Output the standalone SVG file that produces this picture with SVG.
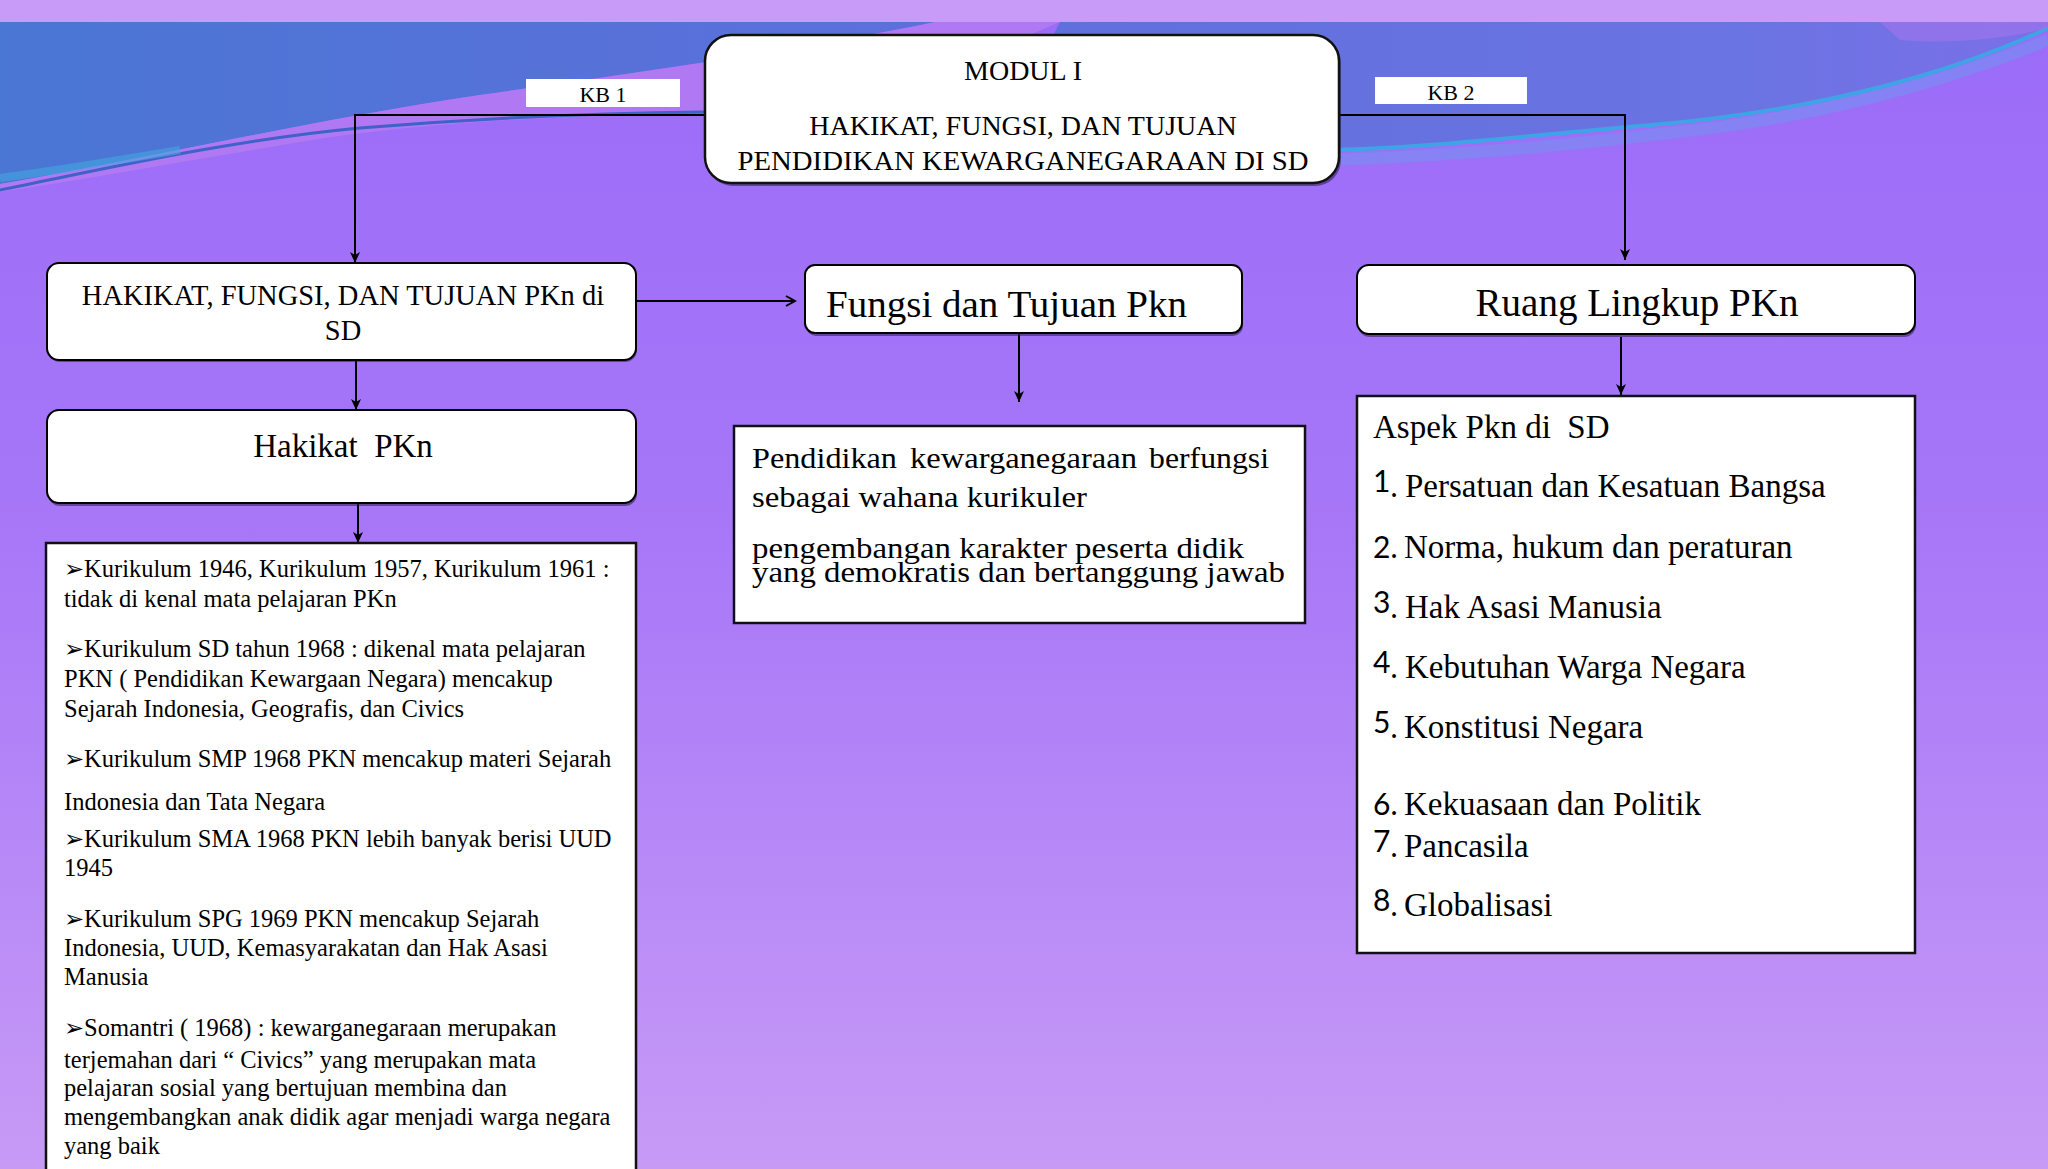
<svg xmlns="http://www.w3.org/2000/svg" width="2048" height="1169" viewBox="0 0 2048 1169">
  <defs>
    <linearGradient id="bgGrad" x1="0" y1="0" x2="0" y2="1">
      <stop offset="0" stop-color="#9a6bf8"/>
      <stop offset="0.45" stop-color="#a777f8"/>
      <stop offset="1" stop-color="#c79af6"/>
    </linearGradient>
    <linearGradient id="blueA" x1="0" y1="0" x2="1" y2="0">
      <stop offset="0" stop-color="#4a76d4"/>
      <stop offset="1" stop-color="#5e6fdc"/>
    </linearGradient>
    <linearGradient id="blueB" x1="0" y1="0" x2="1" y2="0">
      <stop offset="0" stop-color="#5f6fdc"/>
      <stop offset="0.7" stop-color="#6a74e2"/>
      <stop offset="1" stop-color="#7b6fe8"/>
    </linearGradient>
    <marker id="arrowFill" markerUnits="userSpaceOnUse" markerWidth="12" markerHeight="10" refX="11" refY="5" orient="auto">
      <path d="M0,0 L11,5 L0,10 L3,5 Z" fill="#000"/>
    </marker>
    <marker id="arrowOpen" markerUnits="userSpaceOnUse" markerWidth="12" markerHeight="12" refX="10" refY="6" orient="auto">
      <path d="M1,1 L10,6 L1,11" fill="none" stroke="#000" stroke-width="2"/>
    </marker>
    <style>
      .serif { font-family: "Liberation Serif", "Times New Roman", serif; fill: #000; }
      .sym { font-family: "DejaVu Sans", "Liberation Serif", sans-serif; fill: #000; }
      .num { font-family: Lato, "Open Sans", "Liberation Sans", sans-serif; fill: #000; }
      .rbox { fill: #fff; stroke: #000; stroke-width: 2; }
      .sbox { fill: #fff; stroke: #111; stroke-width: 2.5; }
      .shadow { fill: #2a1d4a; opacity: 0.55; }
      .conn { fill: none; stroke: #000; stroke-width: 2; }
      .mid { text-anchor: middle; }
    </style>
  </defs>

  <!-- background -->
  <rect x="0" y="0" width="2048" height="1169" fill="url(#bgGrad)"/>
  <path d="M0,22 H935 C800,50 640,72 480,95 C300,122 150,158 0,184 Z" fill="url(#blueA)"/>
  <path d="M0,184 C150,158 300,122 480,95 C640,72 800,50 935,22 H1060 C950,70 820,105 700,113 C560,116 420,122 300,142 C180,162 80,180 0,192 Z" fill="#b47af2" opacity="0.85"/>
  <path d="M0,190 C100,170 230,140 360,128 C480,118 600,113 705,112" fill="none" stroke="#3f62c8" stroke-width="3"/>
  <path d="M0,178 C60,170 120,160 180,150" fill="none" stroke="#41a6e0" stroke-width="8" opacity="0.6"/>
  <path d="M1060,22 H2048 V30 C1960,70 1820,112 1640,126 C1520,136 1420,148 1330,150 L1000,140 Z" fill="url(#blueB)"/>
  <path d="M1330,150 C1430,148 1520,136 1640,126 C1820,112 1960,70 2048,28" fill="none" stroke="#3fa4e6" stroke-width="4"/>
  <path d="M1330,160 C1450,156 1560,146 1660,134 C1820,118 1950,80 2048,40" fill="none" stroke="#5aa8ee" stroke-width="12" opacity="0.35"/>
  <path d="M1880,22 H2048 V28 C2000,40 1950,44 1900,40 Z" fill="#a274ee" opacity="0.6"/>
  <rect x="0" y="0" width="2048" height="22" fill="#c99bf8"/>

  <!-- connectors -->
  <g id="connectors">
    <path class="conn" d="M705,115 H355 V263" marker-end="url(#arrowFill)" stroke-width="2"/>
    <path class="conn" d="M1339,115 H1625 V260" marker-end="url(#arrowFill)" stroke-width="1.6"/>
    <path class="conn" d="M636,301 H795" marker-end="url(#arrowOpen)" stroke-width="1.6"/>
    <path class="conn" d="M356,360 V410" marker-end="url(#arrowFill)"/>
    <path class="conn" d="M358,503 V543" marker-end="url(#arrowFill)"/>
    <path class="conn" d="M1019,333 V402" marker-end="url(#arrowFill)"/>
    <path class="conn" d="M1621,337 V395" marker-end="url(#arrowFill)"/>
  </g>

  <!-- KB labels -->
  <g id="kb1">
    <rect x="526" y="79" width="154" height="28" fill="#fff"/>
    <text class="serif mid" x="603" y="102" font-size="22">KB 1</text>
  </g>
  <g id="kb2">
    <rect x="1375" y="77" width="152" height="27" fill="#fff"/>
    <text class="serif mid" x="1451" y="100" font-size="22">KB 2</text>
  </g>

  <!-- MODUL I -->
  <g id="modul">
    <rect class="shadow" x="707" y="37" width="634" height="149" rx="26"/>
    <rect class="sbox" x="705" y="35" width="634" height="148" rx="26"/>
    <text class="serif mid" x="1023" y="80" font-size="28">MODUL I</text>
    <text class="serif mid" x="1023" y="135" font-size="28">HAKIKAT, FUNGSI, DAN TUJUAN</text>
    <text class="serif mid" x="1023" y="170" font-size="28" textLength="571" lengthAdjust="spacingAndGlyphs">PENDIDIKAN KEWARGANEGARAAN DI SD</text>
  </g>

  <!-- HAKIKAT, FUNGSI, DAN TUJUAN PKn di SD -->
  <g id="box-hakikat-fungsi">
    <rect class="shadow" x="48" y="265" width="589" height="97" rx="12"/>
    <rect class="rbox" x="47" y="263" width="589" height="97" rx="12"/>
    <text class="serif mid" x="343" y="305" font-size="28.5">HAKIKAT, FUNGSI, DAN TUJUAN PKn di</text>
    <text class="serif mid" x="343" y="340" font-size="28.5">SD</text>
  </g>

  <!-- Fungsi dan Tujuan Pkn -->
  <g id="box-fungsi">
    <rect class="shadow" x="806" y="267" width="437" height="69" rx="10"/>
    <rect class="rbox" x="805" y="265" width="437" height="68" rx="10"/>
    <text class="serif" x="826" y="317" font-size="38" textLength="361" lengthAdjust="spacingAndGlyphs">Fungsi dan Tujuan Pkn</text>
  </g>

  <!-- Ruang Lingkup PKn -->
  <g id="box-ruang">
    <rect class="shadow" x="1358" y="267" width="558" height="70" rx="12"/>
    <rect class="rbox" x="1357" y="265" width="558" height="69" rx="12"/>
    <text class="serif mid" x="1637" y="316" font-size="39">Ruang Lingkup PKn</text>
  </g>

  <!-- Hakikat PKn -->
  <g id="box-hakikat">
    <rect class="shadow" x="48" y="412" width="589" height="94" rx="12"/>
    <rect class="rbox" x="47" y="410" width="589" height="93" rx="12"/>
    <text class="serif mid" x="343" y="457" font-size="33" xml:space="preserve">Hakikat  PKn</text>
  </g>

  <!-- Fungsi description -->
  <g id="box-fungsi-desc">
    <rect x="734" y="426" width="571" height="197" fill="#fff" stroke="#111" stroke-width="2.5"/>
    <text class="serif" x="752" y="468" font-size="30" textLength="145" lengthAdjust="spacingAndGlyphs">Pendidikan</text>
    <text class="serif" x="910" y="468" font-size="30" textLength="227" lengthAdjust="spacingAndGlyphs">kewarganegaraan</text>
    <text class="serif" x="1149" y="468" font-size="30" textLength="120" lengthAdjust="spacingAndGlyphs">berfungsi</text>
    <text class="serif" x="752" y="507" font-size="30" textLength="335" lengthAdjust="spacingAndGlyphs">sebagai wahana kurikuler</text>
    <text class="serif" x="752" y="558" font-size="30" textLength="492" lengthAdjust="spacingAndGlyphs">pengembangan karakter peserta didik</text>
    <text class="serif" x="752" y="582" font-size="30" textLength="533" lengthAdjust="spacingAndGlyphs">yang demokratis dan bertanggung jawab</text>
  </g>

  <!-- Aspek list -->
  <g id="box-aspek">
    <rect x="1357" y="396" width="558" height="557" fill="#fff" stroke="#111" stroke-width="2.5"/>
    <text class="serif" x="1373" y="438" font-size="33" xml:space="preserve">Aspek Pkn di  SD</text>
    <text class="num" x="1373" y="492" font-size="30">1<tspan dy="5">.</tspan></text>
    <text class="serif" x="1405" y="497" font-size="33">Persatuan dan Kesatuan Bangsa</text>
    <text class="num" x="1373" y="558" font-size="30">2.</text>
    <text class="serif" x="1404" y="558" font-size="33">Norma, hukum dan peraturan</text>
    <text class="num" x="1373" y="613" font-size="30">3<tspan dy="5">.</tspan></text>
    <text class="serif" x="1405" y="618" font-size="33">Hak Asasi Manusia</text>
    <text class="num" x="1373" y="673" font-size="30">4<tspan dy="5">.</tspan></text>
    <text class="serif" x="1405" y="678" font-size="33">Kebutuhan Warga Negara</text>
    <text class="num" x="1373" y="733" font-size="30">5<tspan dy="5">.</tspan></text>
    <text class="serif" x="1404" y="738" font-size="33">Konstitusi Negara</text>
    <text class="num" x="1373" y="815" font-size="30">6.</text>
    <text class="serif" x="1404" y="815" font-size="33">Kekuasaan dan Politik</text>
    <text class="num" x="1373" y="852" font-size="30">7<tspan dy="5">.</tspan></text>
    <text class="serif" x="1404" y="857" font-size="33">Pancasila</text>
    <text class="num" x="1373" y="911" font-size="30">8<tspan dy="5">.</tspan></text>
    <text class="serif" x="1404" y="916" font-size="33">Globalisasi</text>
  </g>

  <!-- Kurikulum history list -->
  <g id="box-kurikulum">
    <rect x="46" y="543" width="590" height="640" fill="#fff" stroke="#111" stroke-width="2.5"/>
    <g font-size="24.5">
      <text x="64" y="577"><tspan class="sym" font-size="24">➢</tspan><tspan class="serif">Kurikulum 1946, Kurikulum 1957, Kurikulum 1961 :</tspan></text>
      <text class="serif" x="64" y="607">tidak di kenal mata pelajaran PKn</text>
      <text x="64" y="657"><tspan class="sym" font-size="24">➢</tspan><tspan class="serif">Kurikulum SD tahun 1968 : dikenal mata pelajaran</tspan></text>
      <text class="serif" x="64" y="687">PKN ( Pendidikan Kewargaan Negara) mencakup</text>
      <text class="serif" x="64" y="717">Sejarah Indonesia, Geografis, dan Civics</text>
      <text x="64" y="767"><tspan class="sym" font-size="24">➢</tspan><tspan class="serif">Kurikulum SMP 1968 PKN mencakup materi Sejarah</tspan></text>
      <text class="serif" x="64" y="810">Indonesia dan Tata Negara</text>
      <text x="64" y="847"><tspan class="sym" font-size="24">➢</tspan><tspan class="serif">Kurikulum SMA 1968 PKN lebih banyak berisi UUD</tspan></text>
      <text class="serif" x="64" y="876">1945</text>
      <text x="64" y="927"><tspan class="sym" font-size="24">➢</tspan><tspan class="serif">Kurikulum SPG 1969 PKN mencakup Sejarah</tspan></text>
      <text class="serif" x="64" y="956">Indonesia, UUD, Kemasyarakatan dan Hak Asasi</text>
      <text class="serif" x="64" y="985">Manusia</text>
      <text x="64" y="1036"><tspan class="sym" font-size="24">➢</tspan><tspan class="serif">Somantri ( 1968) : kewarganegaraan merupakan</tspan></text>
      <text class="serif" x="64" y="1068">terjemahan dari “ Civics” yang merupakan mata</text>
      <text class="serif" x="64" y="1096">pelajaran sosial yang bertujuan membina dan</text>
      <text class="serif" x="64" y="1125">mengembangkan anak didik agar menjadi warga negara</text>
      <text class="serif" x="64" y="1154">yang baik</text>
    </g>
  </g>
</svg>
